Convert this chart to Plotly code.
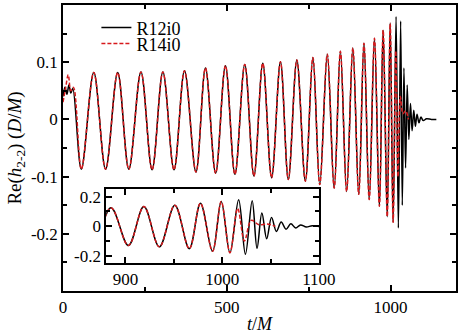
import plotly.graph_objects as go

# Extrema (times in M, amplitudes in D/M) of Re(h_{2,-2}) for both runs
r12_t = [0, 6, 12, 18, 24, 30, 56, 94, 130, 167, 201, 238, 272, 305, 339, 371,
         406, 435, 466, 496, 525, 555, 583, 610, 637, 664, 688, 714, 740, 763,
         784, 807, 828, 847, 866, 885, 903, 919, 935, 951, 966, 977.5, 990, 999,
         1008, 1017, 1024, 1031, 1036, 1041, 1046, 1051, 1056, 1061, 1066, 1071,
         1076, 1081, 1087, 1093, 1100, 1110, 1125, 1140]
r12_h = [0.040, 0.056, 0.044, 0.060, 0.046, 0.054, -0.087, 0.082, -0.087, 0.082,
         -0.087, 0.083, -0.088, 0.083, -0.088, 0.085, -0.092, 0.090, -0.094, 0.094,
         -0.096, 0.096, -0.099, 0.098, -0.102, 0.101, -0.105, 0.104, -0.108, 0.108,
         -0.114, 0.114, -0.120, 0.119, -0.126, 0.125, -0.131, 0.133, -0.140, 0.142,
         -0.152, 0.156, -0.170, 0.168, -0.180, 0.180, -0.190, 0.172, -0.150, 0.090,
         -0.085, 0.060, -0.035, 0.028, -0.020, 0.016, -0.012, 0.009, -0.006, 0.004,
         -0.002, 0.001, 0.0, 0.0]

r14_t = [0, 8, 16, 24, 32, 56, 94, 130, 167, 201, 238, 272, 305, 339, 371,
         406, 435, 466, 496, 525, 555, 583, 610, 637, 664, 688, 714, 740, 763,
         784, 807, 828, 847, 866, 885, 903, 919, 935, 951, 966, 977.5, 990, 999,
         1008, 1016, 1023, 1030, 1038, 1046, 1055]
r14_h = [0.030, 0.055, 0.078, 0.050, 0.056, -0.087, 0.082, -0.087, 0.082,
         -0.087, 0.083, -0.088, 0.083, -0.088, 0.085, -0.092, 0.090, -0.094, 0.094,
         -0.096, 0.096, -0.099, 0.098, -0.102, 0.101, -0.105, 0.104, -0.108, 0.108,
         -0.114, 0.114, -0.120, 0.119, -0.126, 0.125, -0.131, 0.133, -0.140, 0.142,
         -0.152, 0.156, -0.170, 0.168, -0.180, 0.120, -0.100, 0.040, 0.010, 0.015, 0.0]

main_xticks = [0, 500, 1000]
main_yticks = [-0.2, -0.1, 0, 0.1, 0.2]
inset_xticks = [900, 1000, 1100]
inset_yticks = [-0.2, 0, 0.2]

BLACK = "black"
RED = "#d7191c"
FONT = "Liberation Serif, Times New Roman, DejaVu Serif, serif"
TICK_SIZE = 17


def fmt(v):
    return "0" if v == 0 else ("%g" % v)


fig = go.Figure()
for xa, ya, show in [("x", "y", True), ("x2", "y2", False)]:
    fig.add_trace(go.Scatter(x=r12_t, y=r12_h, mode="lines", name="R12i0",
                             line=dict(color=BLACK, width=1.5, shape="spline", smoothing=1.0),
                             xaxis=xa, yaxis=ya, showlegend=show, legend="legend"))
    fig.add_trace(go.Scatter(x=r14_t, y=r14_h, mode="lines", name="R14i0",
                             line=dict(color=RED, width=1.5, dash="4px,2px",
                                       shape="spline", smoothing=1.0),
                             xaxis=xa, yaxis=ya, showlegend=show, legend="legend2"))

axis_common = dict(showline=True, linecolor="black", linewidth=1.5, mirror="ticks",
                   ticks="inside", ticklen=6, tickwidth=1.5, tickcolor="black",
                   showgrid=False, zeroline=False,
                   tickfont=dict(family=FONT, size=TICK_SIZE, color="black"))

legend_common = dict(x=0.085, xanchor="left", yanchor="top",
                     bgcolor="rgba(0,0,0,0)", font=dict(family=FONT, size=18),
                     itemwidth=30)

fig.update_layout(
    width=474, height=334,
    margin=dict(l=63, r=1, t=5, b=42),
    paper_bgcolor="white", plot_bgcolor="white",
    font=dict(family=FONT, size=TICK_SIZE, color="black"),
    xaxis=dict(range=[0, 1200], tickvals=main_xticks,
               ticktext=[fmt(v) for v in main_xticks],
               minor=dict(tickvals=[250, 750], ticks="inside", ticklen=4,
                          tickwidth=1.5, tickcolor="black"),
               title=dict(text="<i>t</i>/<i>M</i>", font=dict(family=FONT, size=18),
                          standoff=3),
               **axis_common),
    yaxis=dict(range=[-0.3, 0.2], tickvals=main_yticks,
               ticktext=[fmt(v) for v in main_yticks],
               minor=dict(tickvals=[-0.25, -0.15, -0.05, 0.05, 0.15], ticks="inside",
                          ticklen=4, tickwidth=1.5, tickcolor="black"),
               title=dict(text="Re(<i>h</i><sub>2-2</sub>) (<i>D</i>/<i>M</i>)",
                          font=dict(family=FONT, size=19), standoff=4),
               **axis_common),
    xaxis2=dict(domain=[0.1098, 0.6512], anchor="y2", range=[880, 1100],
                tickvals=inset_xticks, ticktext=[fmt(v) for v in inset_xticks],
                minor=dict(tickvals=[950, 1050], ticks="inside", ticklen=4,
                           tickwidth=1.5, tickcolor="black"),
                **axis_common),
    yaxis2=dict(domain=[0.0976, 0.3554], anchor="x2", range=[-0.25, 0.25],
                tickvals=inset_yticks, ticktext=[fmt(v) for v in inset_yticks],
                minor=dict(tickvals=[-0.1, 0.1], ticks="inside", ticklen=4,
                           tickwidth=1.5, tickcolor="black"),
                **axis_common),
    legend=dict(y=0.985, **legend_common),
    legend2=dict(y=0.929, **legend_common),
)

fig.write_html("out.html")
